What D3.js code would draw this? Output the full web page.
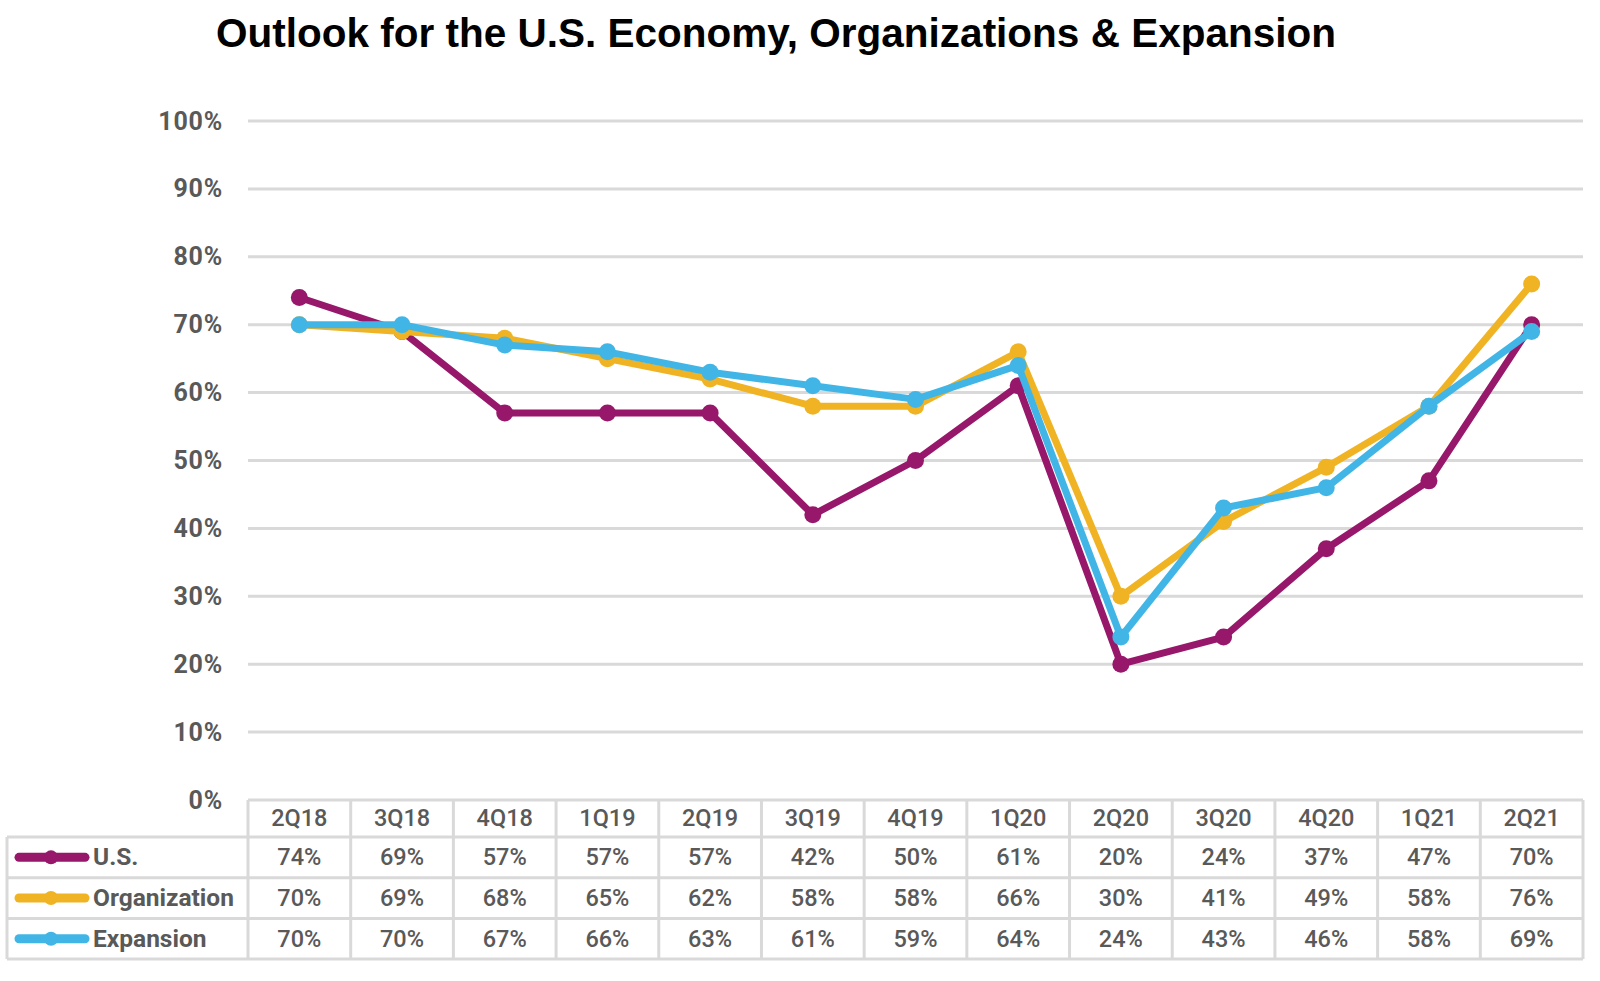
<!DOCTYPE html>
<html><head><meta charset="utf-8">
<script src="https://cdn.jsdelivr.net/npm/d3@7"></script>
<style>html,body{margin:0;padding:0;background:#fff;}svg{display:block;}</style>
</head><body>
<svg id="chart" width="1600" height="981"></svg>
<script>
const categories = ["2Q18","3Q18","4Q18","1Q19","2Q19","3Q19","4Q19","1Q20","2Q20","3Q20","4Q20","1Q21","2Q21"];
const usValues = [74,69,57,57,57,42,50,61,20,24,37,47,70];
const orgValues = [70,69,68,65,62,58,58,66,30,41,49,58,76];
const expValues = [70,70,67,66,63,61,59,64,24,43,46,58,69];
const seriesNames = ["U.S.","Organization","Expansion"];
const seriesColors = ["#97176b","#f0b323","#41b6e6"];
const yTicks = [0,10,20,30,40,50,60,70,80,90,100];
const titleText = "Outlook for the U.S. Economy, Organizations & Expansion";

const series = seriesNames.map((n,i)=>({name:n,color:seriesColors[i],values:[usValues,orgValues,expValues][i]}));

const svg = d3.select("#chart");
const plotLeft = 248, plotRight = 1583, plotTop = 121, plotBottom = 800;
const x = d3.scaleBand().domain(categories).range([plotLeft,plotRight]);
const y = d3.scaleLinear().domain([0,100]).range([plotBottom,plotTop]);
const grey = "#d9d9d9", textCol = "#595959";

svg.append("text").attr("x",776).attr("y",47).attr("text-anchor","middle")
  .style("font-family","Liberation Sans, Arial, sans-serif").style("font-weight","bold")
  .style("font-size","40.5px").attr("fill","#000").text(titleText);

// gridlines
svg.append("g").selectAll("line").data(yTicks.filter(t=>t>0)).join("line")
  .attr("x1",plotLeft).attr("x2",plotRight).attr("y1",d=>y(d)).attr("y2",d=>y(d))
  .attr("stroke",grey).attr("stroke-width",3);

// y labels
const yAxis = d3.axisLeft(y).tickValues(yTicks).tickFormat(d=>d+"%").tickSize(0).tickPadding(0);
const ya = svg.append("g").attr("transform",`translate(223,0)`).call(yAxis);
ya.select(".domain").remove();
ya.selectAll("text").style("font-family","Roboto, sans-serif").style("font-weight","700")
  .style("font-size","25px").style("letter-spacing","0.8px").attr("fill",textCol);

// lines
const line = d3.line().x((d,i)=>x(categories[i])+x.bandwidth()/2).y(d=>y(d));
series.forEach(s=>{
  const g = svg.append("g");
  g.append("path").datum(s.values).attr("d",line).attr("fill","none")
    .attr("stroke",s.color).attr("stroke-width",7).attr("stroke-linejoin","round");
  g.selectAll("circle").data(s.values).join("circle")
    .attr("cx",(d,i)=>x(categories[i])+x.bandwidth()/2).attr("cy",d=>y(d)).attr("r",8.5).attr("fill",s.color);
});

// table
const headerTop = 800, headerBot = 837, rowH = 40.7, tableLeft = 7;
const rowTops = [headerBot, headerBot+rowH, headerBot+2*rowH];
const tableBottom = headerBot + 3*rowH;
const tg = svg.append("g");
tg.append("line").attr("x1",plotLeft).attr("x2",plotRight).attr("y1",headerTop).attr("y2",headerTop).attr("stroke",grey).attr("stroke-width",3);
[headerBot, headerBot+rowH, headerBot+2*rowH, tableBottom].forEach(yy=>{
  tg.append("line").attr("x1",tableLeft).attr("x2",plotRight).attr("y1",yy).attr("y2",yy).attr("stroke",grey).attr("stroke-width",3);
});
tg.append("line").attr("x1",tableLeft).attr("x2",tableLeft).attr("y1",headerBot).attr("y2",tableBottom).attr("stroke",grey).attr("stroke-width",3);
categories.forEach(c=>{
  tg.append("line").attr("x1",x(c)).attr("x2",x(c)).attr("y1",headerTop).attr("y2",tableBottom).attr("stroke",grey).attr("stroke-width",3);
});
tg.append("line").attr("x1",plotRight).attr("x2",plotRight).attr("y1",headerTop).attr("y2",tableBottom).attr("stroke",grey).attr("stroke-width",3);

tg.selectAll("text.hdr").data(categories).join("text").attr("class","hdr")
  .attr("x",c=>x(c)+x.bandwidth()/2).attr("y",817.5).attr("dy","0.36em")
  .attr("text-anchor","middle").style("font-family","Roboto, sans-serif").style("font-weight","500")
  .style("font-size","23.5px").attr("fill",textCol).text(c=>c);

series.forEach((s,si)=>{
  const cy = rowTops[si] + rowH/2;
  tg.selectAll(null).data(s.values).join("text")
    .attr("x",(d,i)=>x(categories[i])+x.bandwidth()/2).attr("y",cy-0.5).attr("dy","0.36em")
    .attr("text-anchor","middle").style("font-family","Roboto, sans-serif").style("font-weight","500")
    .style("font-size","23.5px").attr("fill",textCol).text(d=>d+"%");
  tg.append("line").attr("x1",19).attr("x2",85).attr("y1",cy).attr("y2",cy)
    .attr("stroke",s.color).attr("stroke-width",9).attr("stroke-linecap","round");
  tg.append("circle").attr("cx",51).attr("cy",cy).attr("r",7).attr("fill",s.color);
  tg.append("text").attr("x",93).attr("y",cy-1).attr("dy","0.36em")
    .style("font-family","Roboto, sans-serif").style("font-weight","700")
    .style("font-size","24.5px").attr("fill",textCol).text(s.name);
});
</script>
</body></html>
